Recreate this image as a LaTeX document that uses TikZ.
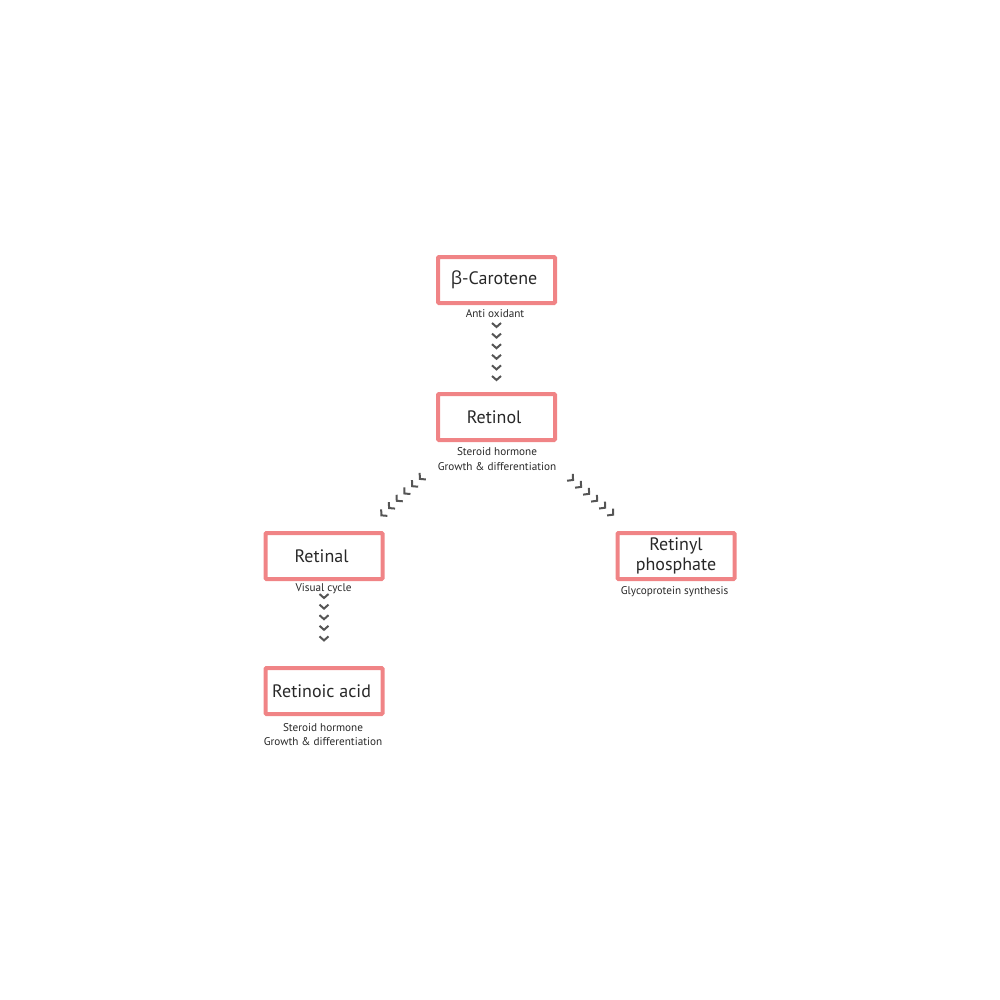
\documentclass[tikz,border=0pt]{standalone}
\usepackage{fontspec}
\setmainfont{PT Sans}
\newfontfamily\greekfont{Open Sans}
\usetikzlibrary{decorations.markings}

\definecolor{boxpink}{RGB}{240,132,134}
\definecolor{chevgray}{RGB}{85,85,85}
\definecolor{textgray}{RGB}{40,40,40}

\begin{document}
\begin{tikzpicture}[x = 1pt, y = -1pt,
  compound/.style = {draw = boxpink, line width = 4pt, rounded corners = 1pt, minimum width = 117pt, minimum height = 46pt, inner sep = 0pt, align = center, text = textgray, font = \fontsize{18}{20}\selectfont},
  note/.style = {inner sep = 0pt, align = center, text = textgray, font = \fontsize{11.2}{14.5}\selectfont},
  chevrons/.style 2 args = {decoration = {markings, mark = between positions #1 and #2 step 10.6pt with {\draw[chevgray, line width = 2pt] (-4pt, 4.5pt) -- (0pt, 0pt) -- (-4pt, -4.5pt);}}, postaction = {decorate}}]

  \useasboundingbox (0, 0) rectangle (1000, 1000);

  % Compounds
  \node[compound] (carotene) at (496.5, 280) { {\greekfont β}-Carotene };
  \node[compound] (retinol) at (496.5, 417) { Retinol };
  \node[compound] (retinal) at (324, 556) { Retinal };
  \node[compound] (retinyl) at (676, 556) { Retinyl\\phosphate };
  \node[compound] (retacid) at (324, 691) { Retinoic acid };

  % Roles
  \node[note] (antiox) at (496.5, 314) { Anti oxidant };
  \node[note] (retinolrole) at (497, 459) { Steroid hormone\\Growth \& differentiation };
  \node[note] (visual) at (325, 589) { Visual cycle };
  \node[note] (glyco) at (676, 592) { Glycoprotein synthesis };
  \node[note] (retacidrole) at (323, 734.5) { Steroid hormone\\Growth \& differentiation };

  % Chevrons
  \path[chevrons = {22pt}{76pt}] (carotene.south) -- (retinol.north);
  \path[chevrons = {5.7pt}{59.5pt}] ([xshift = -12pt, yshift = -33pt]retinol.south west) -- ([xshift = -7pt, yshift = 12pt]retinal.north east);
  \path[chevrons = {5.3pt}{59pt}] ([xshift = 12pt, yshift = -34.5pt]retinol.south east) -- ([xshift = 2pt, yshift = 12.5pt]retinyl.north west);
  \path[chevrons = {17pt}{70pt}] (retinal.south) -- (retacid.north);

\end{tikzpicture}
\end{document}
